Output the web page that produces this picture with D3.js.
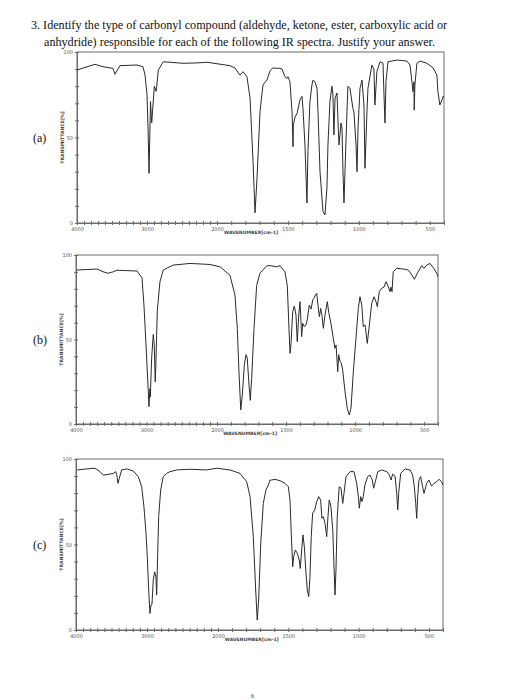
<!DOCTYPE html>
<html>
<head>
<meta charset="utf-8">
<script src="https://cdn.jsdelivr.net/npm/d3@7"></script>
<style>
  html, body { margin: 0; padding: 0; background: #fff; }
  svg { display: block; }
</style>
</head>
<body>
<script>
// ---------- data ----------
const titleLines = [
  "3. Identify the type of carbonyl compound (aldehyde, ketone, ester, carboxylic acid or",
  "anhydride) responsible for each of the following IR spectra.  Justify your answer."
];
const panelLabels = ["(a)", "(b)", "(c)"];
const xTickLabels = [4000, 3000, 2000, 1500, 1000, 500];
const yTickLabels = [0, 50, 100];
const xAxisTitle = "WAVENUMBER[cm-1]";
const yAxisTitle = "TRANSMITTANCE[%]";

// spectrum (a): wavenumber (cm-1) and transmittance (%)
const wnA = [4000,3743,3628,3486,3457,3386,3143,3057,3028,3000,2985,2971,2950,2933,2895,2871,2861,2838,2767,2486,2300,2143,1908,1873,1838,1817,1789,1767,1746,1732,1718,1697,1676,1648,1626,1605,1591,1556,1542,1521,1507,1500,1486,1471,1464,1462,1450,1436,1415,1401,1394,1380,1366,1359,1345,1331,1323,1309,1295,1288,1274,1253,1239,1225,1218,1204,1190,1183,1176,1168,1154,1147,1140,1126,1119,1112,1105,1098,1084,1077,1063,1042,1035,1020,1013,1006,992,978,964,957,943,936,908,894,887,873,851,830,823,816,809,795,732,661,640,626,619,612,610,605,591,569,520,478,450,443,429,414,407,400];
const tA  = [89.5,92.8,91.4,90.4,87,92,92.4,91.4,86.5,75,55.5,29,71,58.5,80,77,80,89.5,94.3,93.4,93.6,94,92,90.6,86.5,88.5,85.6,73,36,6,26,65,80.7,83.6,89,90.8,90.5,90.5,90,85.6,84.6,85.6,82.6,65,44.6,57,62,64,72,74,67,45.6,11.7,41.7,71,80.7,83.6,82.5,78.8,65,30,6.6,4.7,20.5,45.6,71,80,75,51.5,73,76,59,45.6,58.5,55.6,30,11.7,30,65,80,78.8,67,65,45.6,30,55.6,78.8,83.6,69,32,65,78.8,92.4,90,69,88.5,94.3,93.5,75,58.5,82.6,94.3,95.3,94.7,92.4,82.6,76.8,82.6,66,80.7,93.4,94.7,93.4,90.8,86.5,76.8,69,72,74,74];

// spectrum (b)
const wnB = [3986,3702,3617,3546,3475,3419,3135,3064,3036,3007,2979,2965,2951,2946,2927,2904,2890,2876,2866,2847,2809,2762,2625,2383,2100,1978,1906,1870,1853,1841,1828,1817,1802,1790,1781,1768,1759,1749,1732,1713,1689,1640,1616,1568,1544,1508,1491,1479,1471,1464,1452,1440,1428,1419,1408,1399,1392,1387,1380,1368,1356,1346,1332,1319,1307,1298,1288,1278,1269,1259,1249,1240,1230,1218,1201,1191,1175,1158,1146,1138,1126,1119,1109,1100,1090,1073,1057,1042,1030,1013,994,977,965,952,941,928,912,897,880,863,849,839,825,808,791,776,760,747,740,733,724,699,651,615,590,571,550,518,501,482,458,434,409,400];
const tB  = [91.1,91.7,90.1,89.2,90,91,90.5,86.5,70.4,46.7,23,10.3,21,16,39,53,46.7,25,37,67,84.2,91.1,94,95,94.4,93,88,76.3,56.6,31,8.3,17,35,41,39,23,14,27,56.6,82,89.2,93.6,93.7,93,93.7,90,82,56.6,41.8,47.7,66.4,69.8,64.5,48.7,64.5,72.4,60.6,51.7,59.6,57.6,58.6,62,70.4,68,73.4,74.4,76.3,77.3,70.4,63.5,68.4,64,56.6,64.5,72.4,66,59.6,50.7,44.8,46.7,31,41,37,36,31.9,19,9.3,5.3,9.3,31,50.7,68.4,75.3,70.4,57.6,58.6,47.7,58.6,71.4,75.3,72.4,69.4,78.3,80.3,81,84.2,81.3,78.3,81,78.3,90.1,92.1,91.7,91.1,88.2,85.6,89.2,93.7,92.1,94,95,92.5,89.2,87.2];

// spectrum (c)
const wnC = [3982,3849,3732,3662,3616,3545,3475,3441,3427,3409,3390,3357,3286,3193,3123,3075,3043,3014,2996,2972,2958,2944,2930,2912,2892,2874,2864,2855,2836,2807,2771,2723,2676,2582,2395,2160,2018,1915,1844,1796,1772,1749,1732,1721,1711,1696,1678,1659,1642,1630,1618,1595,1559,1524,1500,1488,1479,1469,1462,1450,1436,1422,1415,1405,1396,1386,1376,1365,1355,1346,1337,1327,1312,1298,1284,1270,1261,1251,1239,1227,1218,1209,1197,1184,1175,1168,1161,1152,1138,1125,1113,1104,1090,1061,1033,1014,1002,995,985,976,967,955,936,919,903,893,881,864,836,800,781,769,758,741,729,722,715,701,670,634,616,604,594,587,580,571,559,545,535,516,500,481,463,446,427,410,400];
const tC  = [93.6,94.2,94.6,92.6,90.6,91,91.6,92.6,91,85.8,88.7,93.6,94.2,93,89.7,83.8,72.1,56.5,42.9,19.5,9.7,14.6,15,29.2,34,31,20.5,35,66.3,81.9,89.7,91.6,92.6,93.6,94,93.6,94.6,93.6,91.6,86.7,78,54.6,23.4,5.8,17.5,50.7,74,81.9,84.8,87.7,87.7,88.1,87.3,85.8,83.8,76,56.5,37,42.9,46.8,44.8,40.9,36,46.8,55.6,48.7,35.1,23.4,19.5,31.2,54.6,68.4,70.2,75.1,78,76,65.3,66.3,62.4,54.6,66.3,76,72.1,58.5,37,20.5,35.1,66.3,83.8,82.9,74,79.9,89.7,92.6,92.6,85.8,78,71.2,78,75.1,78,84.8,89.7,90.6,87.7,82.9,86.7,92.6,93.6,92.6,90.6,87.7,91.2,90,79.9,70.2,80,91.6,94.2,93.6,90.6,83.8,74,65.3,78,87.7,89.7,83.8,79.9,85.8,87.7,84.2,85.8,86.7,88.1,86.7,84.8];

// ---------- drawing ----------
const W = 511, H = 700;
const svg = d3.select("body").append("svg").attr("width", W).attr("height", H);

svg.selectAll("text.title").data(titleLines).join("text")
  .attr("class", "title")
  .attr("x", (d, i) => i === 0 ? 31 : 44)
  .attr("y", (d, i) => i === 0 ? 29 : 46)
  .attr("textLength", (d, i) => i === 0 ? 416 : 391)
  .attr("lengthAdjust", "spacingAndGlyphs")
  .style("font-family", "'Liberation Serif', 'Times New Roman', serif")
  .style("font-size", "12px")
  .attr("fill", "#111")
  .text(d => d);

const series = [[wnA, tA], [wnB, tB], [wnC, tC]];
const geom = [
  {x0: 77, x2k: 217, x1: 444, yTop: 52, yBot: 223, labY: 142},
  {x0: 76, x2k: 217, x1: 438, yTop: 255, yBot: 424, labY: 344},
  {x0: 76, x2k: 218, x1: 443, yTop: 459, yBot: 630, labY: 549}
];
const axisCol = "#6a6a6a";
const small = {fam: "'DejaVu Sans', sans-serif", size: "5px"};

geom.forEach((g, k) => {
  const x = d3.scaleLinear().domain([4000, 2000, 400]).range([g.x0, g.x2k, g.x1]);
  const y = d3.scaleLinear().domain([0, 100]).range([g.yBot, g.yTop]);
  const gp = svg.append("g");

  // frame
  gp.append("rect")
    .attr("x", x(4000)).attr("y", y(100))
    .attr("width", x(400) - x(4000)).attr("height", y(0) - y(100))
    .attr("fill", "none").attr("stroke", axisCol).attr("stroke-width", 1);

  // x axis
  const xAxis = d3.axisBottom(x)
    .tickValues(d3.range(4000, 399, -100))
    .tickSizeInner(2).tickSizeOuter(0).tickPadding(2)
    .tickFormat(d => xTickLabels.includes(d) ? d : "");
  const ga = gp.append("g").attr("transform", `translate(0,${y(0)})`).call(xAxis);
  ga.select(".domain").attr("stroke", axisCol);
  ga.selectAll(".tick line").attr("stroke", axisCol).attr("y1", -2);
  ga.selectAll(".tick text").attr("fill", "#555")
    .style("font-family", small.fam).style("font-size", small.size);

  // y axis
  const yAxis = d3.axisLeft(y)
    .tickValues(d3.range(0, 101, 10))
    .tickSizeInner(2).tickSizeOuter(0).tickPadding(2)
    .tickFormat(d => yTickLabels.includes(d) ? d : "");
  const gy = gp.append("g").attr("transform", `translate(${x(4000)},0)`).call(yAxis);
  gy.select(".domain").attr("stroke", axisCol);
  gy.selectAll(".tick line").attr("stroke", axisCol).attr("x1", 2);
  gy.selectAll(".tick text").attr("fill", "#555")
    .style("font-family", small.fam).style("font-size", small.size);

  // axis titles
  gp.append("text")
    .attr("transform", `translate(${x(4000) - 13},${(y(0) + y(100)) / 2}) rotate(-90)`)
    .attr("text-anchor", "middle")
    .style("font-family", small.fam).style("font-size", "4.6px").style("font-weight", "bold")
    .attr("fill", "#444").text(yAxisTitle);
  gp.append("text")
    .attr("x", x(1760)).attr("y", y(0) + 11)
    .attr("text-anchor", "middle")
    .style("font-family", small.fam).style("font-size", "4.6px").style("font-weight", "bold")
    .attr("fill", "#444").text(xAxisTitle);

  // panel label
  gp.append("text")
    .attr("x", 33).attr("y", g.labY)
    .style("font-family", "'Liberation Serif', 'Times New Roman', serif")
    .style("font-size", "12px").attr("fill", "#111")
    .text(panelLabels[k]);

  // spectrum
  const [wn, t] = series[k];
  const pts = wn.map((w, i) => [w, t[i]]);
  gp.append("path")
    .datum(pts)
    .attr("fill", "none").attr("stroke", "#2a2a2a").attr("stroke-width", 1)
    .attr("stroke-linejoin", "round")
    .attr("d", d3.line().x(d => x(d[0])).y(d => y(d[1])));
});

// page number fragment at bottom
svg.append("text").attr("x", 251).attr("y", 698)
  .style("font-family", "'Liberation Serif', serif").style("font-size", "6px")
  .attr("fill", "#333").text("6");
</script>
</body>
</html>
